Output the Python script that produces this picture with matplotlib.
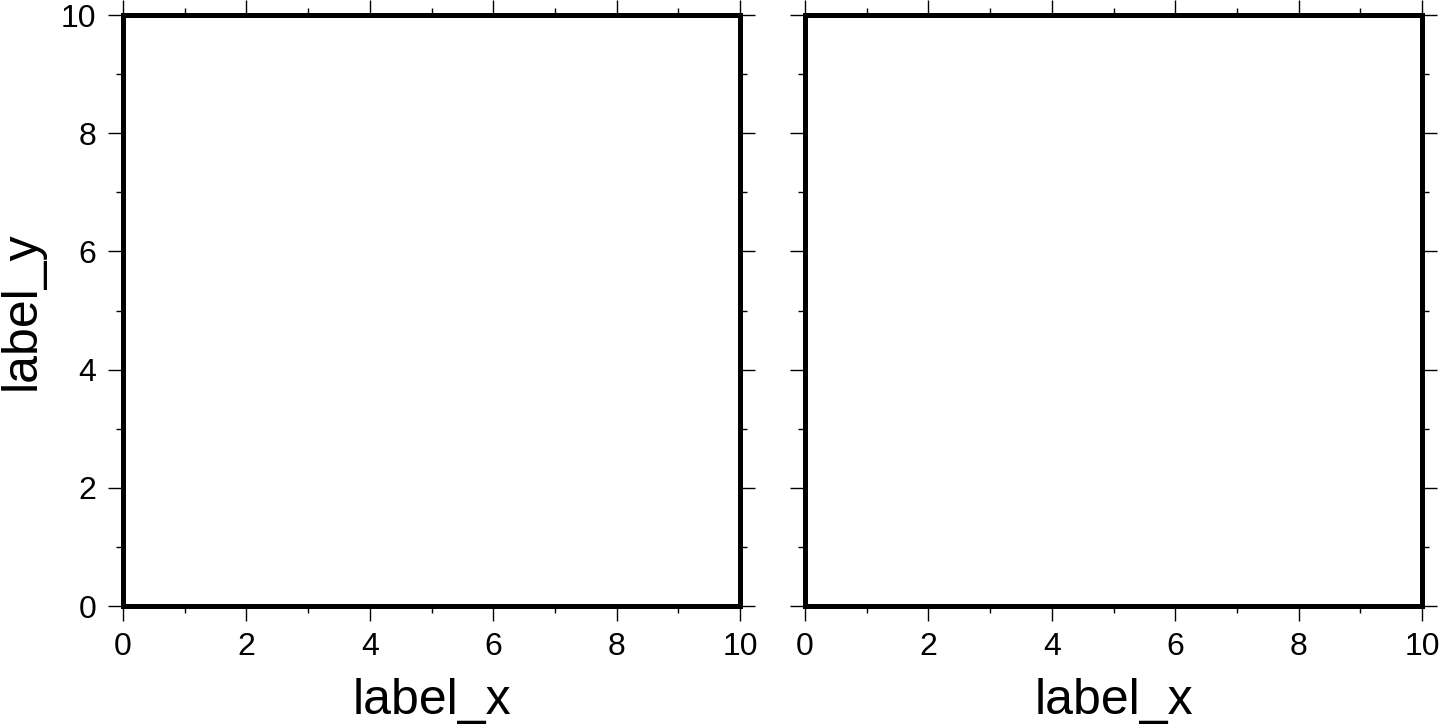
import matplotlib
matplotlib.use('Agg')
from matplotlib import pyplot as plt
from matplotlib.ticker import MultipleLocator

plt.rcParams['font.family'] = ['Liberation Sans', 'DejaVu Sans']

# axis settings of both panels
x_range = [0, 10]
y_range = [0, 10]
major_step = 2
minor_step = 1
x_label = 'label_x'
y_label = 'label_y'

fig = plt.figure(figsize=(14.42, 7.25), dpi=100)
ax_left = fig.add_axes([0.0853, 0.1641, 0.4279, 0.8152])
ax_right = fig.add_axes([0.5583, 0.1641, 0.4279, 0.8152])

for ax in (ax_left, ax_right):
    ax.set_xlim(x_range)
    ax.set_ylim(y_range)
    ax.xaxis.set_major_locator(MultipleLocator(major_step))
    ax.xaxis.set_minor_locator(MultipleLocator(minor_step))
    ax.yaxis.set_major_locator(MultipleLocator(major_step))
    ax.yaxis.set_minor_locator(MultipleLocator(minor_step))
    ax.tick_params(which='both', direction='out', top=True, right=True,
                   width=1.0, color='black')
    ax.tick_params(which='major', length=11, labelsize=23, pad=8)
    ax.tick_params(which='minor', length=5)
    for sp in ax.spines.values():
        sp.set_linewidth(3.6)
        sp.set_capstyle('projecting')
    ax.set_xlabel(x_label, fontsize=36, labelpad=11)

ax_left.set_ylabel(y_label, fontsize=36, labelpad=12)
ax_right.tick_params(axis='y', labelleft=False)

fig.savefig('out.png', dpi=100)
